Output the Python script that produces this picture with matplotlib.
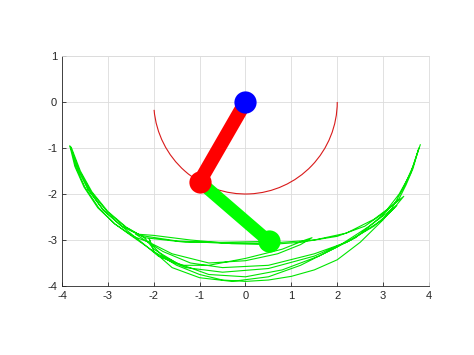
import matplotlib
matplotlib.use('Agg')
import matplotlib.pyplot as plt
from matplotlib.patches import Arc

plt.rcParams['axes.unicode_minus'] = False

# pendulum state
pivot = (0.0, 0.0)
bob1 = (-1.0, -1.73)
bob2 = (0.51, -3.03)
arm1_len = 2.0
arc_start_deg = 184.9
arc_end_deg = 360.0

# traced path of the second bob, swing by swing
trace_x = [
    3.81, 3.65, 3.45, 3.2, 3.0, 2.5, 2.0, 1.5, 1.0, 0.5, 0.0, -0.5, -1.0, -1.5, -2.0, -2.5, -2.85, -3.22, -3.52, -3.72, -3.83,
    -3.65, -3.43, -3.1, -2.7, -2.3, -1.5, -0.5, 0.5, 1.5, 2.2, 2.8, 3.2, 3.45,
    3.2, 2.8, 2.2, 1.5, 0.5, -0.5, -1.2, -1.8, -2.2, -2.4,
    -2.0, -1.2, -0.3, 0.5, 1.2, 2.0, 2.6, 3.1, 3.35, 3.5, 3.65, 3.78,
    3.6, 3.35, 3.0, 2.4, 1.6, 0.8, 0.0, -0.8, -1.5, -2.0, -2.2, -2.6, -3.0, -3.35, -3.6, -3.8,
    -3.7, -3.5, -3.2, -2.85, -2.45, -2.1, -1.6, -0.8, 0.0, 0.7, 1.2, 1.45,
    1.3, 0.8, 0.0, -0.8, -1.4, -1.8, -2.05, -2.1,
    -2.0, -1.6, -1.0, -0.3, 0.5, 1.2, 2.0, 2.7, 3.3,
    3.0, 2.3, 1.5, 0.5, -0.5, -1.3, -1.9, -2.3, -2.7, -3.1, -3.43, -3.65, -3.82,
    -3.62, -3.37, -3.02, -2.62, -2.2, -1.3, -0.5, 0.51,
]
trace_y = [
    -0.93, -1.4, -1.85, -2.3, -2.56, -3.05, -3.43, -3.65, -3.79, -3.87, -3.9, -3.87, -3.75, -3.55, -3.25, -2.9, -2.65, -2.3, -1.85, -1.4, -0.95,
    -1.45, -1.9, -2.35, -2.7, -2.9, -3.02, -3.07, -3.07, -3.0, -2.85, -2.55, -2.25, -2.05,
    -2.35, -2.7, -3.05, -3.3, -3.55, -3.6, -3.5, -3.25, -3.0, -2.87,
    -2.9, -3.0, -3.08, -3.1, -3.05, -2.92, -2.7, -2.35, -2.1, -1.8, -1.45, -1.0,
    -1.55, -2.0, -2.45, -2.95, -3.35, -3.65, -3.8, -3.75, -3.5, -3.2, -2.95, -2.72, -2.38, -1.95, -1.5, -0.98,
    -1.4, -1.85, -2.3, -2.65, -2.92, -3.05, -3.3, -3.5, -3.45, -3.3, -3.1, -2.95,
    -3.0, -3.2, -3.4, -3.55, -3.55, -3.35, -3.1, -2.97,
    -3.25, -3.6, -3.82, -3.9, -3.8, -3.55, -3.15, -2.7, -2.25,
    -2.55, -3.0, -3.35, -3.62, -3.7, -3.6, -3.35, -3.02, -2.7, -2.35, -1.9, -1.45, -0.97,
    -1.5, -1.95, -2.38, -2.72, -2.95, -3.05, -3.05, -3.03,
]

xticks = [-4, -3, -2, -1, 0, 1, 2, 3, 4]
yticks = [1, 0, -1, -2, -3, -4]

fig = plt.figure(figsize=(4.74, 3.55), dpi=100)
ax = fig.add_axes([62 / 474, 69 / 355, 367 / 474, 230 / 355])

ax.plot(trace_x, trace_y, color=(0, 0.9, 0), lw=0.8, zorder=2)
ax.add_patch(Arc(pivot, 2 * arm1_len, 2 * arm1_len, theta1=arc_start_deg, theta2=arc_end_deg,
                 color=(0.85, 0.1, 0.1), lw=0.8, zorder=2))

ax.plot([pivot[0], bob1[0]], [pivot[1], bob1[1]], color='red', lw=10, solid_capstyle='butt', zorder=3)
ax.plot([bob1[0], bob2[0]], [bob1[1], bob2[1]], color=(0, 1, 0), lw=9, solid_capstyle='butt', zorder=3)
ax.plot(bob1[0], bob1[1], 'o', color='red', ms=16, mec='none', zorder=4)
ax.plot(pivot[0], pivot[1], 'o', color='blue', ms=16, mec='none', zorder=4)
ax.plot(bob2[0], bob2[1], 'o', color=(0, 1, 0), ms=16, mec='none', zorder=4)

ax.set_xlim(-4, 4)
ax.set_ylim(-4, 1)
ax.set_xticks(xticks)
ax.set_yticks(yticks)
ax.grid(True, color='#dcdcdc', lw=0.6)
ax.set_axisbelow(True)
ax.tick_params(direction='in', length=3, width=0.6, labelsize=8, colors='#262626',
               top=False, right=False)
for side in ['left', 'bottom']:
    ax.spines[side].set_color('#262626')
    ax.spines[side].set_linewidth(0.6)
for side in ['top', 'right']:
    ax.spines[side].set_color('#dcdcdc')
    ax.spines[side].set_linewidth(0.6)
for lab in ax.get_xticklabels() + ax.get_yticklabels():
    lab.set_family(['Liberation Sans', 'DejaVu Sans'])

fig.savefig('out.png', dpi=100)
